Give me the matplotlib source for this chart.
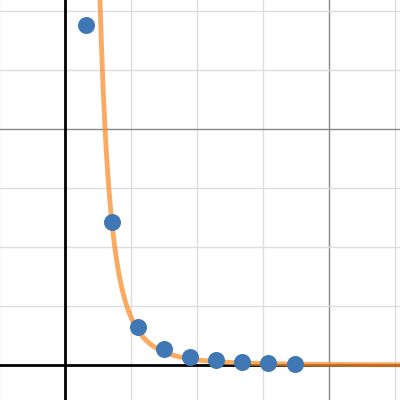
import numpy as np
import matplotlib
matplotlib.use("Agg")
import matplotlib.pyplot as plt

xs = [0.32, 0.71, 1.11, 1.50, 1.89, 2.29, 2.68, 3.08, 3.48]
ys = [5.76, 2.42, 0.64, 0.27, 0.14, 0.085, 0.05, 0.034, 0.017]
fit_a = 0.81
fit_b = 3.2

fig = plt.figure(figsize=(4, 4), dpi=100)
ax = fig.add_axes([0, 0, 1, 1])
ax.set_xlim(-0.985, 5.076)
ax.set_ylim(-0.593, 6.19)
for v in range(-1, 6):
    ax.axvline(v, color='#888' if v % 4 == 0 and v else '#ddd', lw=1, zorder=0)
for v in range(-1, 7):
    ax.axhline(v, color='#888' if v % 4 == 0 and v else '#ddd', lw=1, zorder=0)
ax.axhline(0, color='black', lw=2, zorder=1)
ax.axvline(0, color='black', lw=2, zorder=1)
cx = np.linspace(0.3, 5.2, 800)
ax.plot(cx, fit_a * cx ** -fit_b, color='#f98e2c', alpha=0.75, lw=3.5, zorder=2)
ax.scatter(xs, ys, s=150, color='#3f78b5', zorder=3, linewidths=0)
ax.axis('off')
fig.savefig('out.png', dpi=100)
